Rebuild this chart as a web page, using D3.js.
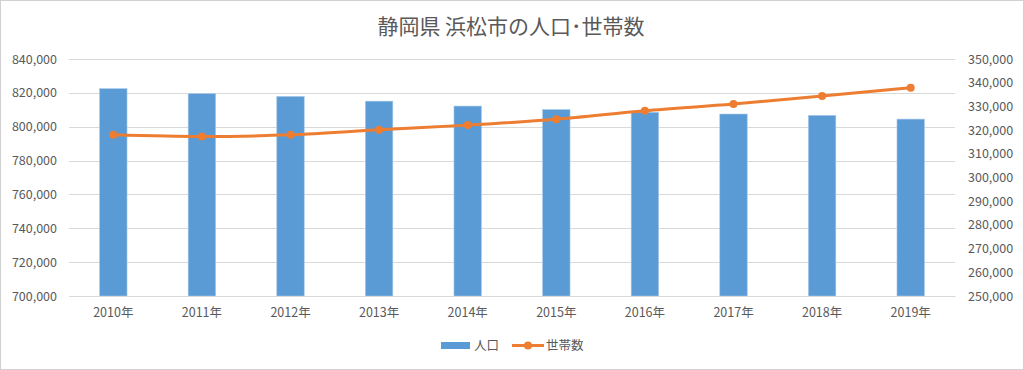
<!DOCTYPE html>
<html><head><meta charset="utf-8">
<script src="https://cdn.jsdelivr.net/npm/d3@7"></script>
<style>
html,body{margin:0;padding:0;background:#fff;}
svg{display:block;font-family:"Noto Sans CJK JP","Noto Sans",sans-serif;}
</style></head>
<body>
<svg id="chart" width="1024" height="370"></svg>
<script>
const categories = ["2010年","2011年","2012年","2013年","2014年","2015年","2016年","2017年","2018年","2019年"];
const population = [822500, 819500, 817900, 815100, 812200, 810100, 808500, 807500, 806700, 804500];
const households = [318000, 317300, 318000, 320100, 322100, 324600, 328200, 331000, 334400, 337900];
const leftTicks = [700000, 720000, 740000, 760000, 780000, 800000, 820000, 840000];
const rightTicks = [250000, 260000, 270000, 280000, 290000, 300000, 310000, 320000, 330000, 340000, 350000];
const title = "静岡県 浜松市の人口･世帯数";
const legendLabels = ["人口", "世帯数"];

const svg = d3.select("#chart");
const W = 1024, H = 370;
const m = {left: 69, right: 1024-955, top: 59, bottom: 370-296};
const textColor = "#595959";
const gridColor = "#d9d9d9";
const barColor = "#5b9bd5";
const lineColor = "#ed7d31";

svg.append("rect").attr("x",0.5).attr("y",0.5).attr("width",W-1).attr("height",H-1)
  .attr("fill","#fff").attr("stroke","#d0d0d0").attr("stroke-width",1);

const x = d3.scaleBand().domain(categories).range([m.left, W-m.right]).paddingInner(0.69).paddingOuter(0.345);
const yL = d3.scaleLinear().domain([700000, 840000]).range([H-m.bottom, m.top]);
const yR = d3.scaleLinear().domain([250000, 350000]).range([H-m.bottom, m.top]);
const fmt = d3.format(",");

// gridlines
svg.append("g").selectAll("line").data(leftTicks).join("line")
  .attr("x1", m.left).attr("x2", W-m.right)
  .attr("y1", d => Math.round(yL(d))+0.5).attr("y2", d => Math.round(yL(d))+0.5)
  .attr("stroke", gridColor).attr("stroke-width", 1);

// left axis
const gL = svg.append("g").attr("transform", `translate(${m.left},0)`)
  .call(d3.axisLeft(yL).tickValues(leftTicks).tickFormat(fmt).tickSize(0).tickPadding(12));
gL.select(".domain").remove();
gL.selectAll("text").attr("fill", textColor).attr("font-size", 12.5).attr("font-family","'Noto Sans CJK JP',sans-serif");

// right axis
const gR = svg.append("g").attr("transform", `translate(${W-m.right},0)`)
  .call(d3.axisRight(yR).tickValues(rightTicks).tickFormat(fmt).tickSize(0).tickPadding(13));
gR.select(".domain").remove();
gR.selectAll("text").attr("fill", textColor).attr("font-size", 12.5).attr("font-family","'Noto Sans CJK JP',sans-serif");

// bars
svg.append("g").selectAll("rect").data(population).join("rect")
  .attr("x", (d,i) => x(categories[i]))
  .attr("width", x.bandwidth())
  .attr("y", d => yL(d))
  .attr("height", d => yL(700000) - yL(d))
  .attr("fill", barColor)
  .attr("stroke", "#a9c9ec").attr("stroke-width", 0.6);

// bottom axis
const gB = svg.append("g").attr("transform", `translate(0,${H-m.bottom})`)
  .call(d3.axisBottom(x).tickSize(0).tickPadding(12));
gB.select(".domain").attr("stroke", gridColor);
gB.selectAll("text").attr("fill", textColor).attr("font-size", 12.5).attr("font-family","'Noto Sans CJK JP',sans-serif");

// line
const cx = (i) => x(categories[i]) + x.bandwidth()/2;
const line = d3.line().x((d,i) => cx(i)).y(d => yR(d)).curve(d3.curveMonotoneX);
svg.append("path").datum(households).attr("d", line)
  .attr("fill","none").attr("stroke", lineColor).attr("stroke-width", 3).attr("stroke-linejoin","round").attr("stroke-linecap","round");
svg.append("g").selectAll("circle").data(households).join("circle")
  .attr("cx", (d,i) => cx(i)).attr("cy", d => yR(d)).attr("r", 4)
  .attr("fill", lineColor);

// title
svg.append("text").attr("x", 511).attr("y", 34).attr("text-anchor","middle")
  .attr("fill", textColor).attr("font-size", 21).text(title);

// legend
const lg = svg.append("g").attr("font-size", 12.5).attr("fill", textColor);
lg.append("rect").attr("x", 441).attr("y", 342).attr("width", 29).attr("height", 7).attr("fill", barColor);
lg.append("text").attr("x", 474).attr("y", 350).attr("fill", textColor).text(legendLabels[0]);
lg.append("line").attr("x1", 512).attr("x2", 544).attr("y1", 345.5).attr("y2", 345.5).attr("stroke", lineColor).attr("stroke-width", 3);
lg.append("circle").attr("cx", 528).attr("cy", 345.5).attr("r", 4).attr("fill", lineColor);
lg.append("text").attr("x", 546).attr("y", 350).attr("fill", textColor).text(legendLabels[1]);
</script>
</body></html>
